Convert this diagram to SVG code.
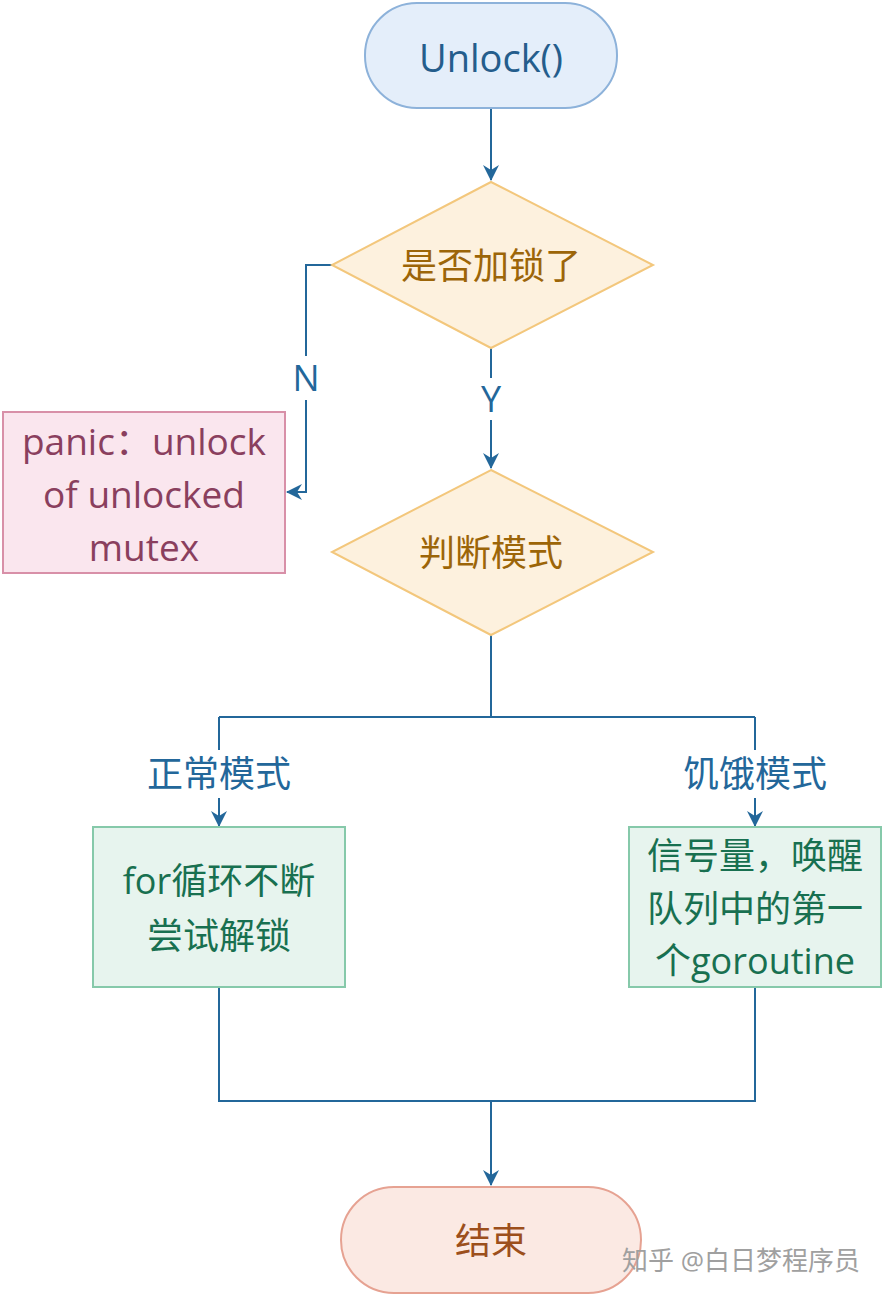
<svg xmlns="http://www.w3.org/2000/svg" width="882" height="1296" viewBox="0 0 882 1296">
<defs>
<marker id="arr" viewBox="0 0 16 16" refX="15" refY="8" markerWidth="16" markerHeight="16" markerUnits="userSpaceOnUse" orient="auto">
<path d="M0,0 L16,8 L0,16 L5,8 Z" fill="#23679a"/>
</marker>
<style>
text{font-family:"Open Sans","Noto Sans CJK SC",sans-serif;text-anchor:middle;dominant-baseline:central}
.c{fill:none;stroke:#23679a;stroke-width:2}
.lbl{fill:#23679a;font-size:36px}
</style>
</defs>
<rect width="882" height="1296" fill="#ffffff"/>
<g id="connectors">
<path class="c" d="M491,108 V180" marker-end="url(#arr)"/>
<path class="c" d="M491,348 V378 M491,420 V468" marker-end="url(#arr)"/>
<path class="c" d="M332,265 H306 V356 M306,400 V492 H287" marker-end="url(#arr)"/>
<path class="c" d="M491,635 V717 M219,717 H755 M219,717 V750 M755,717 V750"/>
<path class="c" d="M219,798 V826" marker-end="url(#arr)"/>
<path class="c" d="M755,798 V826" marker-end="url(#arr)"/>
<path class="c" d="M219,987 V1101 H755 V987 M491,1101 V1185" marker-end="url(#arr)"/>
<text class="lbl" x="491" y="398">Y</text>
<text class="lbl" x="306" y="377">N</text>
<text class="lbl" x="219" y="773">正常模式</text>
<text class="lbl" x="755" y="773">饥饿模式</text>
</g>
<g id="start">
<rect x="365" y="3" width="252" height="105" rx="52" fill="#e4eefa" stroke="#8db2da" stroke-width="2"/>
<text x="491" y="57" font-size="38" fill="#245d8c">Unlock()</text>
</g>
<g id="locked">
<polygon points="491,182 653,265 491,348 332,265" fill="#fdf1de" stroke="#f3c77c" stroke-width="2"/>
<text x="491" y="265" font-size="36" fill="#9c6508">是否加锁了</text>
</g>
<g id="panic">
<rect x="3" y="412" width="282" height="161" fill="#fae6ee" stroke="#d890a8" stroke-width="2"/>
<text font-size="37" fill="#8a3f5e"><tspan x="144" y="440">panic：unlock</tspan><tspan x="144" y="493">of unlocked</tspan><tspan x="144" y="546">mutex</tspan></text>
</g>
<g id="mode">
<polygon points="491,470 653,552 491,635 332,552" fill="#fdf1de" stroke="#f3c77c" stroke-width="2"/>
<text x="491" y="552" font-size="36" fill="#9c6508">判断模式</text>
</g>
<g id="normal">
<rect x="93" y="827" width="252" height="160" fill="#e7f4ee" stroke="#86c9aa" stroke-width="2"/>
<text font-size="36" fill="#187050"><tspan x="219" y="880">for循环不断</tspan><tspan x="219" y="935">尝试解锁</tspan></text>
</g>
<g id="starving">
<rect x="629" y="827" width="252" height="160" fill="#e7f4ee" stroke="#86c9aa" stroke-width="2"/>
<text font-size="36" fill="#187050"><tspan x="755" y="855">信号量，唤醒</tspan><tspan x="755" y="908">队列中的第一</tspan><tspan x="755" y="960">个goroutine</tspan></text>
</g>
<g id="end">
<rect x="341" y="1187" width="300" height="106" rx="53" fill="#fbe9e3" stroke="#e6a292" stroke-width="2"/>
<text x="491" y="1240" font-size="36" fill="#9c4f1c">结束</text>
</g>
<text x="741" y="1260" font-size="26" fill="#a0a0a0">知乎 @白日梦程序员</text>
</svg>
